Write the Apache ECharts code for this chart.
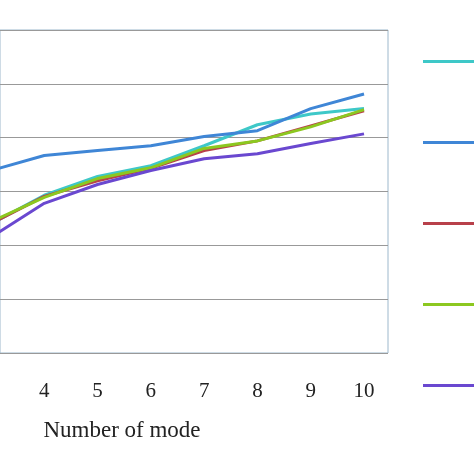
<!DOCTYPE html>
<html><head><meta charset="utf-8">
<script src="https://cdn.jsdelivr.net/npm/echarts@6/dist/echarts.min.js"></script>
<style>html,body{margin:0;padding:0;background:#fff}#c{width:474px;height:474px}</style>
</head><body><div id="c"></div>
<script>
let modes = [3, 4, 5, 6, 7, 8, 9, 10];
let tickLabels = [4, 5, 6, 7, 8, 9, 10];
let seriesNames = ['s1', 's2', 's3', 's4', 's5'];
let seriesColors = ['#3ec8c8', '#3f86d6', '#b8404a', '#8cc820', '#6a48d0'];
let cyanData = [2.40, 2.93, 3.28, 3.48, 3.85, 4.24, 4.44, 4.54];
let blueData = [3.39, 3.67, 3.76, 3.85, 4.02, 4.13, 4.54, 4.81];
let redData = [2.40, 2.91, 3.20, 3.43, 3.76, 3.94, 4.22, 4.50];
let greenData = [2.44, 2.89, 3.24, 3.44, 3.80, 3.94, 4.20, 4.52];
let purpleData = [2.15, 2.78, 3.13, 3.39, 3.61, 3.70, 3.89, 4.07];
let allData = [cyanData, blueData, redData, greenData, purpleData];

let myChart = echarts.init(document.getElementById('c'));
let option = {
    animation: false,
    legend: {
        orient: 'vertical',
        left: 418,
        top: 55,
        itemWidth: 52,
        itemHeight: 3,
        itemGap: 78,
        icon: 'rect',
        formatter: function () { return ''; },
        data: seriesNames
    },
    grid: {
        left: 0, right: 86, top: 30, bottom: 121,
        show: true, borderColor: '#9db8cc', borderWidth: 1
    },
    xAxis: {
        type: 'value', min: 3.17, max: 10.45,
        name: 'Number of mode', nameLocation: 'middle', nameGap: 66,
        nameTextStyle: {fontFamily: 'Liberation Serif', fontSize: 23, color: '#222', padding: [0, 144, 0, 0]},
        axisLine: {show: false}, axisTick: {show: false}, splitLine: {show: false},
        axisLabel: {fontFamily: 'Liberation Serif', fontSize: 21, color: '#222', margin: 28, customValues: tickLabels}
    },
    yAxis: {
        type: 'value', min: 0, max: 6, interval: 1,
        axisLabel: {show: false}, axisLine: {show: false}, axisTick: {show: false},
        splitLine: {lineStyle: {color: '#999', width: 1}}
    },
    series: []
};
for (let i = 0; i < seriesNames.length; i++) {
    option.series.push({
        name: seriesNames[i],
        type: 'line',
        symbol: 'none',
        data: modes.map(function (m, j) { return [m, allData[i][j]]; }),
        lineStyle: {color: seriesColors[i], width: 3},
        itemStyle: {color: seriesColors[i]}
    });
}
myChart.setOption(option);
</script></body></html>
